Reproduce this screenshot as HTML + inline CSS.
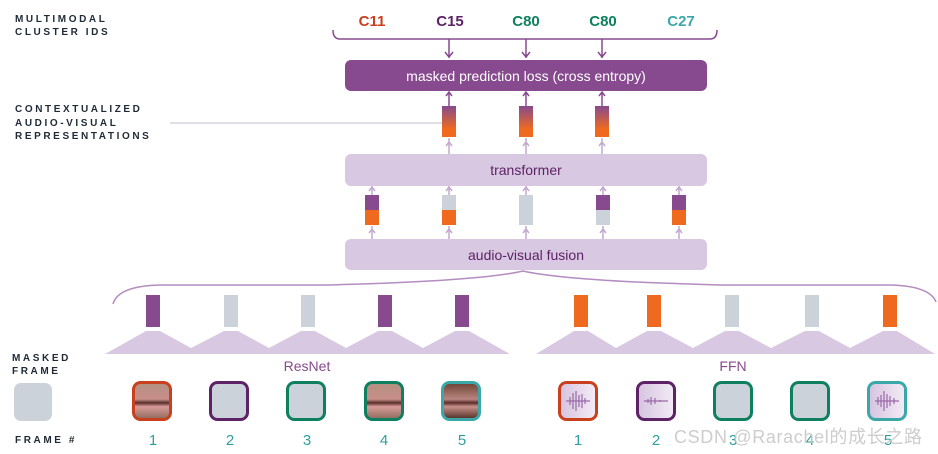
<!DOCTYPE html>
<html><head><meta charset="utf-8"><style>
html,body{margin:0;padding:0;background:#fff;}
svg{display:block;}
.lab{font-family:"Liberation Sans",sans-serif;font-weight:bold;font-size:10px;letter-spacing:2.6px;fill:#1f2a36;}
.cid{font-family:"Liberation Sans",sans-serif;font-weight:bold;font-size:15px;}
.box{font-family:"Liberation Sans",sans-serif;font-size:14px;}
.num{font-family:"Liberation Sans",sans-serif;font-size:15px;fill:#2e9e9c;}
</style></head><body>
<svg width="938" height="454" viewBox="0 0 938 454" xmlns="http://www.w3.org/2000/svg">
<defs>
<linearGradient id="g" x1="0" y1="0" x2="0" y2="1"><stop offset="0" stop-color="#874a8e"/><stop offset="0.75" stop-color="#ef6a1f"/></linearGradient>
<linearGradient id="lip" x1="0" y1="0" x2="0" y2="1"><stop offset="0" stop-color="#b29080"/><stop offset="0.45" stop-color="#c98f8a"/><stop offset="0.55" stop-color="#5a2e2a"/><stop offset="0.65" stop-color="#d99a98"/><stop offset="1" stop-color="#8a6a5a"/></linearGradient>
<linearGradient id="lip2" x1="0" y1="0" x2="0" y2="1"><stop offset="0" stop-color="#6a4030"/><stop offset="0.45" stop-color="#b98580"/><stop offset="0.55" stop-color="#5a2e2a"/><stop offset="0.65" stop-color="#c98f8a"/><stop offset="1" stop-color="#4a2a20"/></linearGradient>
<linearGradient id="wav" x1="0" y1="0" x2="1" y2="0"><stop offset="0" stop-color="#d6c3df"/><stop offset="1" stop-color="#f3ecf6"/></linearGradient>
</defs>
<text class="lab" x="15" y="22">MULTIMODAL</text>
<text class="lab" x="15" y="35">CLUSTER IDS</text>
<text class="lab" x="15" y="112">CONTEXTUALIZED</text>
<text class="lab" x="15" y="126">AUDIO-VISUAL</text>
<text class="lab" x="15" y="139">REPRESENTATIONS</text>
<text class="lab" x="12" y="361">MASKED</text>
<text class="lab" x="12" y="374">FRAME</text>
<text class="lab" x="15" y="443">FRAME #</text>
<rect x="14" y="383" width="38" height="38" rx="7" fill="#cbd2da"/>

<text class="cid" x="372" y="26" text-anchor="middle" fill="#c8401e">C11</text>
<text class="cid" x="450" y="26" text-anchor="middle" fill="#5e2266">C15</text>
<text class="cid" x="526" y="26" text-anchor="middle" fill="#0e7f5f">C80</text>
<text class="cid" x="603" y="26" text-anchor="middle" fill="#0e7f5f">C80</text>
<text class="cid" x="681" y="26" text-anchor="middle" fill="#3aa8a8">C27</text>
<path d="M333 30 Q333 39 340 39 L710 39 Q717 39 717 30" fill="none" stroke="#874a8e" stroke-width="1.5"/>
<g stroke="#874a8e" stroke-width="1.5" fill="none">
<path d="M449 39V58M445 52l4 5 4-5M526 39V58M522 52l4 5 4-5M602 39V58M598 52l4 5 4-5"/>
<path d="M449 92V106M446 96l3-4 3 4M526 92V106M523 96l3-4 3 4M602 92V106M599 96l3-4 3 4"/>
</g>
<rect x="345" y="60" width="362" height="31" rx="6" fill="#874a8e"/>
<text class="box" x="526" y="81" text-anchor="middle" fill="#fff">masked prediction loss (cross entropy)</text>
<line x1="170" y1="123" x2="442" y2="123" stroke="#b8c0c8" stroke-width="1"/>
<rect x="442" y="106" width="14" height="31" fill="url(#g)"/>
<rect x="519" y="106" width="14" height="31" fill="url(#g)"/>
<rect x="595" y="106" width="14" height="31" fill="url(#g)"/>
<g stroke="#c4a8cf" stroke-width="1.5" fill="none">
<path d="M449 138V154M446 146l3-4 3 4M526 138V154M523 146l3-4 3 4M602 138V154M599 146l3-4 3 4"/>
<path d="M372 186V195M369 191l3-4 3 4M449 186V195M446 191l3-4 3 4M526 186V195M523 191l3-4 3 4M603 186V195M600 191l3-4 3 4M679 186V195M676 191l3-4 3 4"/>
<path d="M372 226V239M369 233l3-4 3 4M449 226V239M446 233l3-4 3 4M526 226V239M523 233l3-4 3 4M603 226V239M600 233l3-4 3 4M679 226V239M676 233l3-4 3 4"/>
</g>
<rect x="345" y="154" width="362" height="32" rx="6" fill="#d8c8e1"/>
<text class="box" x="526" y="175" text-anchor="middle" fill="#5e2266">transformer</text>
<rect x="365" y="195" width="14" height="15" fill="#874a8e"/><rect x="365" y="210" width="14" height="15" fill="#ef6a1f"/>
<rect x="442" y="195" width="14" height="15" fill="#cbd2da"/><rect x="442" y="210" width="14" height="15" fill="#ef6a1f"/>
<rect x="519" y="195" width="14" height="30" fill="#cbd2da"/>
<rect x="596" y="195" width="14" height="15" fill="#874a8e"/><rect x="596" y="210" width="14" height="15" fill="#cbd2da"/>
<rect x="672" y="195" width="14" height="15" fill="#874a8e"/><rect x="672" y="210" width="14" height="15" fill="#ef6a1f"/>
<rect x="345" y="239" width="362" height="31" rx="6" fill="#d8c8e1"/>
<text class="box" x="526" y="260" text-anchor="middle" fill="#5e2266">audio-visual fusion</text>
<path d="M113 304 Q118 286 160 285 L330 285 Q480 281 523 271 Q566 281 720 285 L890 285 Q930 286 936 302" fill="none" stroke="#b48cc0" stroke-width="1.5"/>
<g fill="#874a8e"><rect x="146" y="295" width="14" height="32"/><rect x="378" y="295" width="14" height="32"/><rect x="455" y="295" width="14" height="32"/></g>
<g fill="#cbd2da"><rect x="224" y="295" width="14" height="32"/><rect x="301" y="295" width="14" height="32"/><rect x="725" y="295" width="14" height="32"/><rect x="805" y="295" width="14" height="32"/></g>
<g fill="#ef6a1f"><rect x="574" y="295" width="14" height="32"/><rect x="647" y="295" width="14" height="32"/><rect x="883" y="295" width="14" height="32"/></g>
<g fill="#d8c8e1">
<polygon points="105,354 146,331 160,331 191,348 224,331 238,331 269,348 301,331 315,331 346,348 378,331 392,331 423,348 455,331 469,331 510,354"/>
<polygon points="536,354 574,331 588,331 616,348 647,331 661,331 693,348 725,331 739,331 771,348 805,331 819,331 850,348 883,331 897,331 935,354"/>
</g>
<text class="box" x="307" y="371" text-anchor="middle" fill="#874a8e" font-size="15">ResNet</text>
<text class="box" x="733" y="371" text-anchor="middle" fill="#874a8e" font-size="15">FFN</text>
<g stroke-width="3">
<rect x="133.5" y="382.5" width="37" height="37" rx="7" fill="url(#lip)" stroke="#c8401e"/>
<rect x="210.5" y="382.5" width="37" height="37" rx="7" fill="#cbd2da" stroke="#5e2266"/>
<rect x="287.5" y="382.5" width="37" height="37" rx="7" fill="#cbd2da" stroke="#0e7f5f"/>
<rect x="365.5" y="382.5" width="37" height="37" rx="7" fill="url(#lip)" stroke="#0e7f5f"/>
<rect x="442.5" y="382.5" width="37" height="37" rx="7" fill="url(#lip2)" stroke="#3aa8a8"/>
<rect x="559.5" y="382.5" width="37" height="37" rx="7" fill="url(#wav)" stroke="#c8401e"/>
<rect x="637.5" y="382.5" width="37" height="37" rx="7" fill="url(#wav)" stroke="#5e2266"/>
<rect x="714.5" y="382.5" width="37" height="37" rx="7" fill="#cbd2da" stroke="#0e7f5f"/>
<rect x="791.5" y="382.5" width="37" height="37" rx="7" fill="#cbd2da" stroke="#0e7f5f"/>
<rect x="868.5" y="382.5" width="37" height="37" rx="7" fill="url(#wav)" stroke="#3aa8a8"/>
</g>
<g stroke="#9a6aa8" stroke-width="1.2">
<path d="M566 401h24M570 397v8M573 393v16M576 391v20M579 395v12M582 394v14M585 398v6"/>
<path d="M644 401h24M648 399v4M651 397v8M655 398v6M660 400v2"/>
<path d="M875 401h24M878 397v8M881 395v12M884 391v20M887 394v14M890 396v10M894 398v6"/>
</g>
<text class="num" x="153" y="445" text-anchor="middle">1</text>
<text class="num" x="230" y="445" text-anchor="middle">2</text>
<text class="num" x="307" y="445" text-anchor="middle">3</text>
<text class="num" x="384" y="445" text-anchor="middle">4</text>
<text class="num" x="462" y="445" text-anchor="middle">5</text>
<text class="num" x="578" y="445" text-anchor="middle">1</text>
<text class="num" x="656" y="445" text-anchor="middle">2</text>
<text class="num" x="733" y="445" text-anchor="middle">3</text>
<text class="num" x="810" y="445" text-anchor="middle">4</text>
<text class="num" x="888" y="445" text-anchor="middle">5</text>
<text x="674" y="443" font-family="Liberation Sans, Noto Sans CJK SC, sans-serif" font-size="18" textLength="248" fill="#c8c8c8" fill-opacity="0.9">CSDN @Rarachel的成长之路</text>
</svg>
</body></html>
